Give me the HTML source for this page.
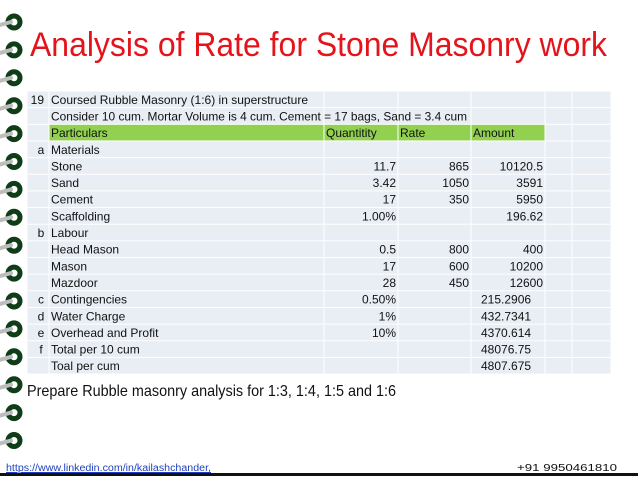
<!DOCTYPE html>
<html><head><meta charset="utf-8"><style>
html,body{margin:0;padding:0;background:#fff;}
svg{display:block;font-family:"Liberation Sans",Arial,sans-serif;}
</style></head><body>
<svg id="s" width="638" height="478" viewBox="0 0 638 478">
<g id="spirals"></g>
<text x="30" y="56" font-size="34" fill="#e3141b" textLength="577" lengthAdjust="spacingAndGlyphs">Analysis of Rate for Stone Masonry work</text>
<g id="tbl"></g>
<text x="27" y="396" font-size="16" fill="#111" textLength="369" lengthAdjust="spacingAndGlyphs">Prepare Rubble masonry analysis for 1:3, 1:4, 1:5 and 1:6</text>
<text x="6" y="471" font-size="10" fill="#1f3fbf" text-decoration="underline" textLength="205" lengthAdjust="spacingAndGlyphs">https://www.linkedin.com/in/kailashchander,</text>
<text x="517" y="471" font-size="10" fill="#111" textLength="100" lengthAdjust="spacingAndGlyphs">+91 9950461810</text>
<rect x="0" y="473" width="638" height="3" fill="#111"/>
</svg>
<script>
const NS="http://www.w3.org/2000/svg";
function mk(t,a,p){const e=document.createElementNS(NS,t);for(const k in a)e.setAttribute(k,a[k]);p.appendChild(e);return e;}
const sp=document.getElementById('spirals');
for(let i=0;i<16;i++){
  const y=22+i*27.9;
  const g=mk('g',{},sp);
  
  
  mk('circle',{cx:14,cy:y,r:6,fill:'none',stroke:'#0f3d17','stroke-width':5},g);
  mk('line',{x1:0,y1:y+3,x2:11,y2:y,stroke:'#bdbdbd','stroke-width':4,'stroke-linecap':'round'},g);
}
const cols=[27,49,324,398,471,545,572,611];
const labels=["19","","","a","","","","","b","","","","c","d","e","f",""];
const particulars=["Coursed Rubble Masonry (1:6) in superstructure","Consider 10 cum. Mortar Volume is 4 cum. Cement = 17 bags, Sand = 3.4 cum","Particulars","Materials","Stone","Sand","Cement","Scaffolding","Labour","Head Mason","Mason","Mazdoor","Contingencies","Water Charge","Overhead and Profit","Total per 10 cum","Toal per cum"];
const qty=["","","Quantitity","","11.7","3.42","17","1.00%","","0.5","17","28","0.50%","1%","10%","",""];
const rate=["","","Rate","","865","1050","350","","","800","600","450","","","","",""];
const amount=["","","Amount","","10120.5","3591","5950","196.62","","400","10200","12600","215.2906","432.7341","4370.614","48076.75","4807.675"];
const amtLeft=[false,false,true,false,false,false,false,false,false,false,false,false,true,true,true,true,true];
const T=document.getElementById('tbl');
const top0=91,rh=16.65;
for(let r=0;r<17;r++){
  const y=top0+r*rh;
  const row=mk('g',{},T);
  
  
  for(let c=0;c<7;c++){
    const fill=(r===2&&c>=1&&c<=4)?'#92d050':'#e9edf4';
    mk('rect',{x:cols[c]+0.5,y:y+0.5,width:cols[c+1]-cols[c]-1,height:rh-1,fill:fill},row);
  }
  const by=y+12.8;
  const fs=12;
  if(labels[r]) mk('text',{x:r===0?44:41,y:by,'font-size':fs,fill:'#111','text-anchor':r===0?'end':'middle'},row).textContent=labels[r];
  const pt=mk('text',{x:51,y:by,'font-size':fs,fill:'#111'},row);
  pt.textContent=particulars[r];
  if(r===0){pt.setAttribute('textLength',257);pt.setAttribute('lengthAdjust','spacingAndGlyphs');}
  if(r===1){pt.setAttribute('textLength',416);pt.setAttribute('lengthAdjust','spacingAndGlyphs');}
  if(r===2){
    mk('text',{x:326,y:by,'font-size':fs,fill:'#111'},row).textContent=qty[r];
    mk('text',{x:400,y:by,'font-size':fs,fill:'#111'},row).textContent=rate[r];
    mk('text',{x:473,y:by,'font-size':fs,fill:'#111'},row).textContent=amount[r];
    continue;
  }
  if(qty[r]) mk('text',{x:396,y:by,'font-size':fs,fill:'#111','text-anchor':'end'},row).textContent=qty[r];
  if(rate[r]) mk('text',{x:469,y:by,'font-size':fs,fill:'#111','text-anchor':'end'},row).textContent=rate[r];
  if(amount[r]){
    if(amtLeft[r]) mk('text',{x:481,y:by,'font-size':fs,fill:'#111'},row).textContent=amount[r];
    else mk('text',{x:543,y:by,'font-size':fs,fill:'#111','text-anchor':'end'},row).textContent=amount[r];
  }
}
</script>
</body></html>
